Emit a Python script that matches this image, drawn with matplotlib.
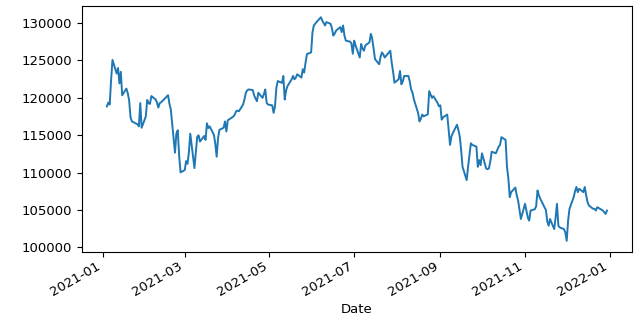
import matplotlib
matplotlib.use("Agg")
import matplotlib.pyplot as plt
import matplotlib.dates as mdates
import pandas as pd

holidays = ["2021-01-01", "2021-01-25", "2021-02-15", "2021-02-16", "2021-04-02",
            "2021-04-21", "2021-06-03", "2021-09-07", "2021-10-12", "2021-11-02",
            "2021-11-15", "2021-12-24"]

jan = [118855, 119377, 119100, 122386, 125077, 123255, 123998, 121933, 123480, 120349,
       121241, 120636, 119646, 117380, 116850, 116464, 116200, 119300, 116000]
feb = [117518, 119724, 119261, 119198, 120240, 119800, 119400, 118700, 119300, 119400,
       120356, 119199, 118431, 112668, 115227, 115668, 112256, 110035]
mar = [110335, 111540, 111184, 112690, 115202, 110611, 112776, 114800, 114984, 114160,
       114900, 114380, 116600, 115960, 116180, 115060, 113900, 112130, 114610, 115730,
       116000, 116850, 115500]
apr = [117000, 117500, 117760, 118200, 118300, 118200, 119100, 119780, 120680, 121000,
       121130, 121040, 120300, 119550, 120680, 120000, 120500, 121130, 119330, 119100]
may = [119000, 117990, 118900, 121360, 122250, 122000, 122930, 119780, 121000, 121580,
       122480, 122930, 122480, 122700, 123160, 122710, 123830, 123380, 124730, 125850,
       126080]
jun = [128800, 129700, 130150, 130780, 130350, 130000, 129680, 130130, 129900, 129300,
       128330, 128600, 129000, 129460, 128800, 129680, 128330, 127650, 127520, 127300,
       125900]
jul = [127650, 127000, 125400, 127210, 126600, 126300, 127000, 127430, 128560, 127880,
       126500, 125180, 124500, 125500, 126080, 125800, 125400, 126080, 126300, 124730,
       123500, 122030]
aug = [122480, 123600, 121810, 122200, 122930, 122930, 122200, 121130, 120680, 119780,
       117990, 116850, 117200, 117760, 117530, 117800, 120910, 120450, 120000, 120230,
       119330, 118880]
sep = [119000, 117080, 117400, 117760, 113710, 114830, 115290, 116400, 115730, 114830,
       113030, 110780, 109000, 110780, 112300, 113930, 113710, 113480, 110780, 111680,
       111000]
octo = [112580, 110560, 110460, 110560, 111500, 112800, 112580, 113480, 113710, 114740,
        114380, 110780, 109200, 106720, 107390, 108000, 107000, 106280, 105000, 103800]
nov = [105830, 104000, 103580, 104930, 105100, 105500, 107620, 106950, 106500, 105000,
       103500, 102900, 103800, 102450, 104000, 105830, 102900, 102670, 102450, 102000]
dec = [100880, 103580, 105160, 106720, 107500, 108080, 107390, 107840, 107390, 108080,
       106950, 106050, 105600, 105160, 105160, 104930, 105380, 104930, 104700, 104480,
       104930]

months = [("2021-01-01", "2021-01-31", jan), ("2021-02-01", "2021-02-28", feb),
          ("2021-03-01", "2021-03-31", mar), ("2021-04-01", "2021-04-30", apr),
          ("2021-05-01", "2021-05-31", may), ("2021-06-01", "2021-06-30", jun),
          ("2021-07-01", "2021-07-31", jul), ("2021-08-01", "2021-08-31", aug),
          ("2021-09-01", "2021-09-30", sep), ("2021-10-01", "2021-10-31", octo),
          ("2021-11-01", "2021-11-30", nov), ("2021-12-01", "2021-12-30", dec)]

hol = pd.to_datetime(holidays)
dates = []
values = []
for start, end, vals in months:
    d = pd.bdate_range(start, end)
    d = d[~d.isin(hol)]
    n = min(len(d), len(vals))
    dates.extend(d[:n])
    values.extend(vals[:n])

series = pd.Series(values, index=pd.DatetimeIndex(dates, name="Date"))

fig = plt.figure(figsize=(6.4, 3.2), dpi=100)
ax = fig.add_axes([0.128, 0.2125, 0.8595, 0.7685])
ax.plot(series.index, series.values, color="#1f77b4", linewidth=1.4)
ax.xaxis.set_major_locator(mdates.MonthLocator(bymonth=[1, 3, 5, 7, 9, 11]))
ax.xaxis.set_major_formatter(mdates.DateFormatter("%Y-%m"))
ax.xaxis.set_minor_locator(mdates.MonthLocator())
ax.tick_params(axis="x", which="minor", length=0)
ax.tick_params(axis="x", which="major", labelsize=9.5, pad=2)
ax.tick_params(axis="y", labelsize=9.5)
for lbl in ax.get_xticklabels():
    lbl.set_rotation(30)
    lbl.set_ha("right")
ax.set_xlabel("Date", fontsize=9.5, labelpad=3)
fig.savefig("out.png", dpi=100)
